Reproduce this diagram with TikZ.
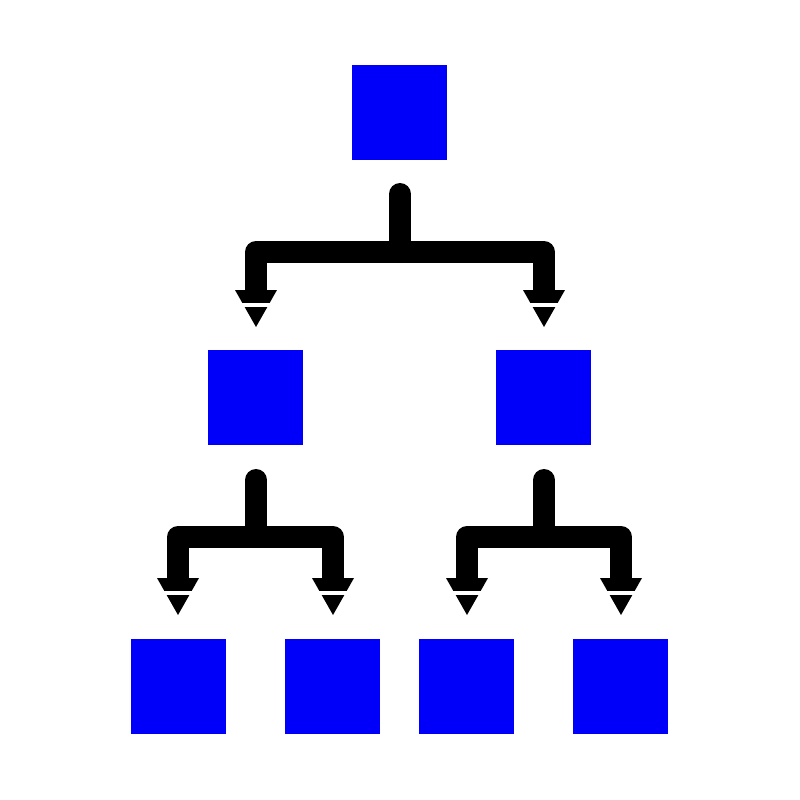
\documentclass[tikz,border=0pt]{standalone}
\definecolor{boxblue}{RGB}{0,0,250}
\tikzset{
  box/.style={fill=boxblue,inner sep=0pt,minimum size=95pt,draw=none},
  stem/.style={line width=22pt,line cap=round,draw=black},
  branch/.style={line width=22pt,line join=round,draw=black},
  arrowhd/.pic={
    \fill[black] (-21,0) -- (21,0) -- (0,37) -- cycle;
    \fill[white] (-23,13) rectangle (23,16.5);
  }
}
\begin{document}
\begin{tikzpicture}[x=1pt,y=-1pt]
\useasboundingbox[fill=white] (0,0) rectangle (800,800);
% boxes
\node[box] (top) at (399.5,112.5) {};
\node[box] (ml) at (255.5,397.5) {};
\node[box] (mr) at (543.5,397.5) {};
\node[box] (b1) at (178.5,686.5) {};
\node[box] (b2) at (332.5,686.5) {};
\node[box] (b3) at (466.5,686.5) {};
\node[box] (b4) at (620.5,686.5) {};
% top connector
\coordinate (s0) at (400,194);
\coordinate (j0) at (400,252);
\coordinate (e1) at (256,290);
\coordinate (e2) at (544,290);
\draw[stem] (s0) -- (j0);
\draw[branch] (e1) -- (e1 |- j0) -- (e2 |- j0) -- (e2);
\pic at (e1) {arrowhd};
\pic at (e2) {arrowhd};
% left lower connector
\coordinate (s1) at (256,480);
\coordinate (j1) at (256,537);
\coordinate (e3) at (178,578);
\coordinate (e4) at (333,578);
\draw[stem] (s1) -- (j1);
\draw[branch] (e3) -- (e3 |- j1) -- (e4 |- j1) -- (e4);
\pic at (e3) {arrowhd};
\pic at (e4) {arrowhd};
% right lower connector
\coordinate (s2) at (544,480);
\coordinate (j2) at (544,537);
\coordinate (e5) at (467,578);
\coordinate (e6) at (621,578);
\draw[stem] (s2) -- (j2);
\draw[branch] (e5) -- (e5 |- j2) -- (e6 |- j2) -- (e6);
\pic at (e5) {arrowhd};
\pic at (e6) {arrowhd};
\end{tikzpicture}
\end{document}
